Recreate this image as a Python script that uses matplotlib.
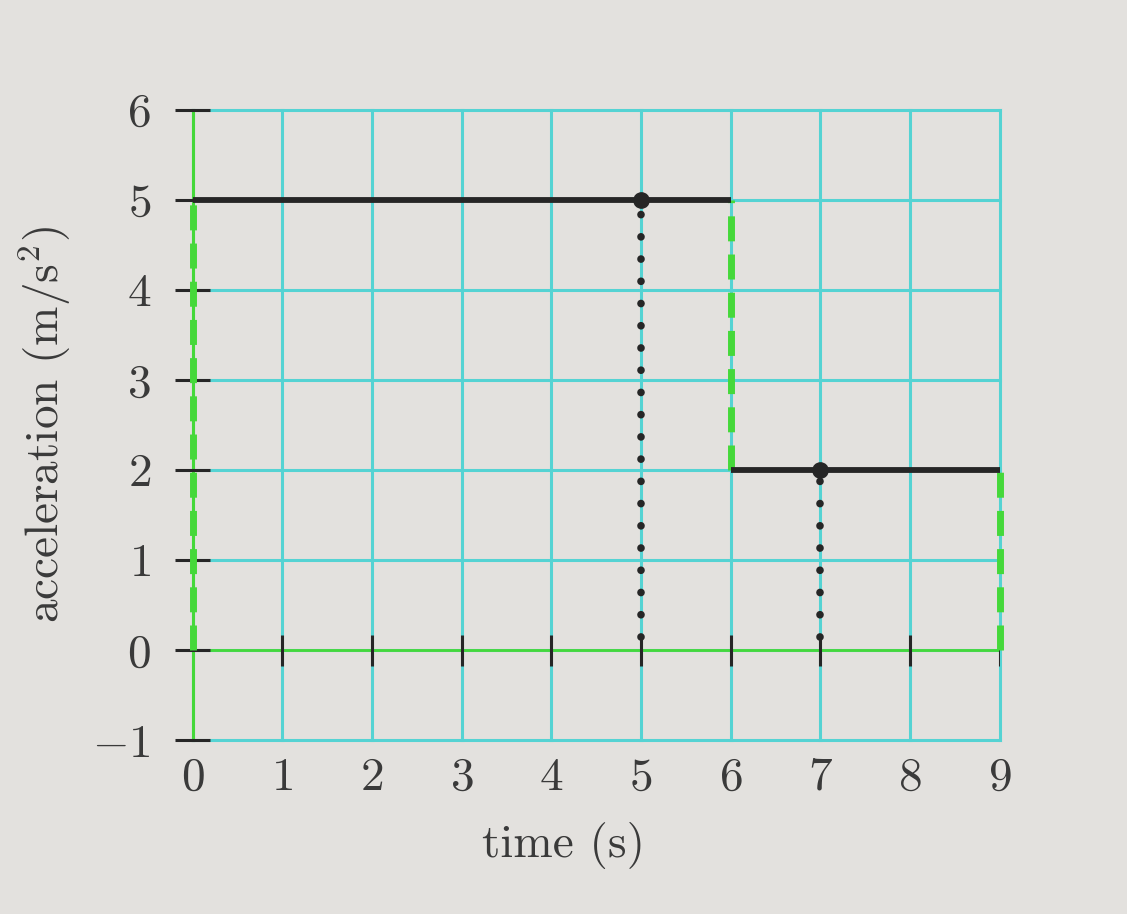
import matplotlib
matplotlib.use("Agg")
import matplotlib.pyplot as plt

# data: piecewise constant acceleration
seg_t0 = [0, 6]
seg_t1 = [6, 9]
seg_a = [5, 2]
pt_t = [5, 7]
pt_a = [5, 2]
jump_t = [0, 6, 9]
jump_lo = [0, 2, 0]
jump_hi = [5, 5, 2]
xticks = [0, 1, 2, 3, 4, 5, 6, 7, 8, 9]
yticks = [-1, 0, 1, 2, 3, 4, 5, 6]

BG = "#e3e1de"
GRID = "#55d3d3"
GREEN = "#45d83a"
INK = "#262626"

plt.rcParams.update({
    "font.family": "cmr10",
    "mathtext.fontset": "cm",
    "axes.formatter.use_mathtext": True,
})

fig = plt.figure(figsize=(11.27, 9.14), dpi=100, facecolor=BG)
ax = fig.add_axes([0.171, 0.190, 0.716, 0.690], facecolor=BG)
ax.set_xlim(0, 9)
ax.set_ylim(-1, 6)

for s in ax.spines.values():
    s.set_visible(False)

# cyan grid (incl. outer frame)
for x in xticks:
    ax.axvline(x, color=GRID, lw=2.2, zorder=1, clip_on=False)
for y in yticks:
    ax.axhline(y, color=GRID, lw=2.2, zorder=1, clip_on=False)

# green axes
ax.axhline(0, color=GREEN, lw=2.0, zorder=2)
ax.axvline(0, color=GREEN, lw=2.2, zorder=2, clip_on=False)

# tick marks drawn through the axes
ax.vlines(xticks[1:], -0.17, 0.17, color=INK, lw=2.2, zorder=3)
ax.hlines(yticks, -0.2, 0.19, color=INK, lw=2.2, zorder=3, clip_on=False)

# jumps (green dashed)
ax.vlines(jump_t, jump_lo, jump_hi, color=GREEN, lw=5, linestyles=(0, (3.6, 1.9)),
          zorder=4, clip_on=False)

# constant segments
ax.hlines(seg_a, seg_t0, seg_t1, color=INK, lw=4.2, zorder=5, clip_on=False)

# sample points with dotted drop lines
for t, a in zip(pt_t, pt_a):
    ax.plot([t, t], [0.15, a], color=INK, lw=5.5, linestyle=(0, (0.01, 2.9)),
            dash_capstyle="round", zorder=5)
ax.plot(pt_t, pt_a, "o", color=INK, ms=11, zorder=6)

ax.set_xticks(xticks)
ax.set_yticks(yticks)
ax.set_xticklabels([f"${v}$" for v in xticks])
ax.set_yticklabels([f"${v}$" for v in yticks])
ax.tick_params(length=0, labelsize=34, colors="#3a3a3a")
ax.tick_params(axis="x", pad=12)
ax.tick_params(axis="y", pad=30)

ax.set_xlabel("time (s)", fontsize=34, color="#3a3a3a")
ax.set_ylabel(r"acceleration (m/s$^2$)", fontsize=34, color="#3a3a3a", labelpad=14)
ax.xaxis.set_label_coords(0.46, -0.13)

fig.savefig("out.png", dpi=100, facecolor=BG)
